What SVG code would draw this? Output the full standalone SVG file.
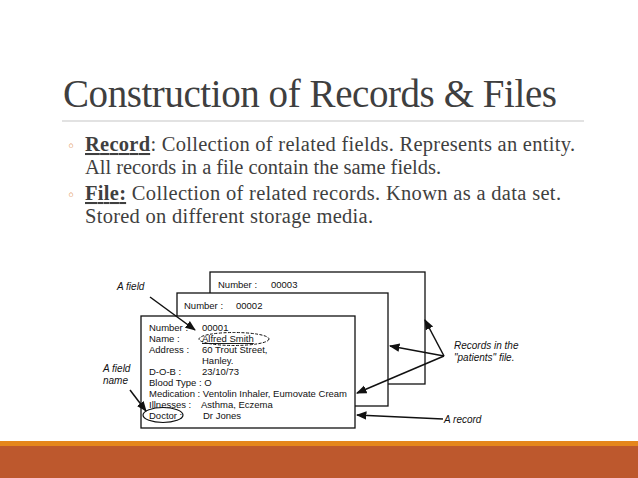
<svg xmlns="http://www.w3.org/2000/svg" width="638" height="478" viewBox="0 0 638 478">
<defs>
<style>
.t{font-family:"Liberation Serif",serif;fill:#3f3f3f}
.s{font-family:"Liberation Sans",Arial,sans-serif;font-size:9.5px;fill:#111}
.i{font-family:"Liberation Sans",Arial,sans-serif;font-size:10px;font-style:italic;fill:#111}
.box{fill:#fff;stroke:#111;stroke-width:1.3}
.c{stroke:#111;stroke-width:1.5;fill:none;marker-end:url(#ah)}
.b{font-family:"DejaVu Sans",sans-serif;font-size:14px;fill:#d9772a}
</style>
<marker id="ah" viewBox="0 0 10 10" refX="9" refY="5" markerWidth="7" markerHeight="7" orient="auto-start-reverse"><path d="M0,1 L10,5 L0,9 z" fill="#111"/></marker>
</defs>
<rect width="638" height="478" fill="#fff"/>
<g id="title"><text class="t" x="63" y="107" font-size="39" textLength="494">Construction of Records &amp; Files</text>
<line x1="62" y1="121" x2="584" y2="121" stroke="#d9d9d9" stroke-width="1.5"/></g>
<g id="bullets" class="t" font-size="20.5">
<text class="b" x="67" y="151">◦</text>
<text x="85" y="151" textLength="490"><tspan font-weight="bold" text-decoration="underline">Record</tspan>: Collection of related fields. Represents an entity.</text>
<text x="85" y="174" textLength="356">All records in a file contain the same fields.</text>
<text class="b" x="67" y="200">◦</text>
<text x="85" y="200" textLength="476"><tspan font-weight="bold" text-decoration="underline">File:</tspan> Collection of related records. Known as a data set.</text>
<text x="85" y="223" textLength="288">Stored on different storage media.</text>
</g>
<g id="record3"><rect class="box" x="210" y="272" width="215" height="112"/><text class="s" x="218" y="288">Number :</text><text class="s" x="271" y="288">00003</text></g>
<g id="record2"><rect class="box" x="177" y="293" width="211" height="113"/><text class="s" x="184" y="309">Number :</text><text class="s" x="236" y="309">00002</text></g>
<g id="record1"><rect class="box" x="141" y="316" width="214" height="112"/>
<g class="s">
<text x="149" y="331">Number :</text><text x="202" y="331">00001</text>
<text x="149" y="342">Name :</text><text x="202" y="342" text-decoration="underline">Alfred Smith</text>
<text x="149" y="353">Address :</text><text x="202" y="353">60 Trout Street,</text>
<text x="202" y="364">Hanley.</text>
<text x="149" y="375">D-O-B :</text><text x="202" y="375">23/10/73</text>
<text x="149" y="386">Blood Type : O</text>
<text x="149" y="397">Medication :  Ventolin Inhaler, Eumovate Cream</text>
<text x="149" y="408">Illnesses :</text><text x="201" y="408">Asthma, Eczema</text>
<text x="149" y="419">Doctor :</text><text x="203" y="419">Dr Jones</text>
</g>
<ellipse cx="234" cy="339" rx="35" ry="6.5" fill="none" stroke="#111" stroke-width="1" stroke-dasharray="3,1.5"/>
<ellipse cx="163" cy="415" rx="20" ry="7.5" fill="none" stroke="#111" stroke-width="1.2"/>
</g>
<g id="labels">
<text class="i" x="117" y="290">A field</text>
<text class="i" x="103" y="372">A field</text><text class="i" x="103" y="384">name</text>
<text class="i" x="454" y="349">Records in the</text><text class="i" x="454" y="361">"patients" file.</text>
<text class="i" x="444" y="423">A record</text>
</g>
<g id="connectors">
<line class="c" x1="150" y1="297" x2="195" y2="330"/>
<line class="c" x1="130" y1="390" x2="146" y2="411"/>
<line class="c" x1="444" y1="356" x2="425" y2="320"/>
<line class="c" x1="444" y1="356" x2="390" y2="346"/>
<line class="c" x1="444" y1="356" x2="357" y2="393"/>
<line class="c" x1="443" y1="419" x2="357" y2="415"/>
</g>
<g id="footer"><rect x="0" y="441" width="638" height="5" fill="#e5861c"/><rect x="0" y="446" width="638" height="32" fill="#bd582d"/></g>
</svg>
